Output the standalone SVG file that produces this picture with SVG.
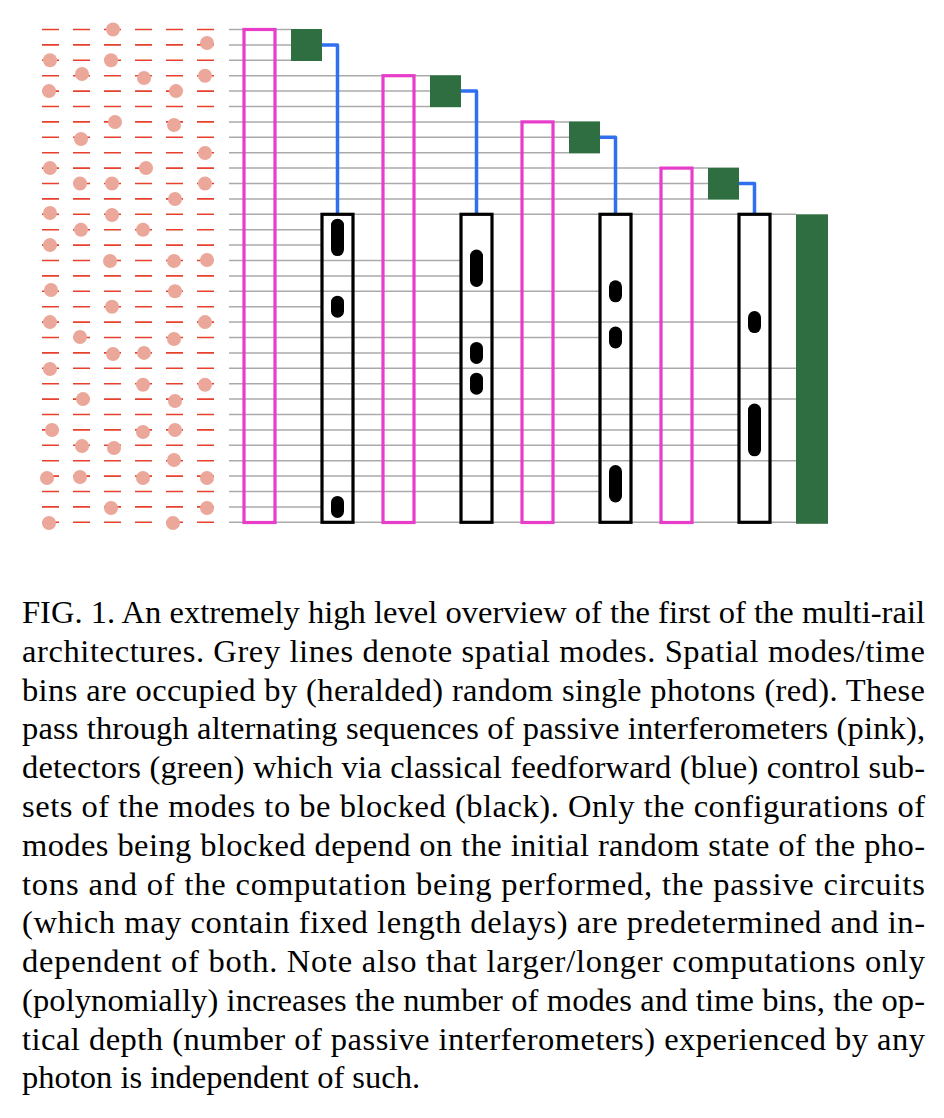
<svg xmlns="http://www.w3.org/2000/svg" width="944" height="1118" viewBox="0 0 944 1118">
<style>
.g{stroke:#aaaaaa;stroke-width:1.5}
.d{stroke:#e8402e;stroke-width:1.6}
.p{fill:#eba79a}
.pk{fill:none;stroke:#e83ccb;stroke-width:3.2}
.gr{fill:#2f6e40}
.bl{fill:none;stroke:#2f6ff0;stroke-width:3.5;stroke-linejoin:round}
.bk{fill:none;stroke:#000;stroke-width:3.2}
.bb{fill:#000}
.t{font-family:"Liberation Serif",serif;font-size:32.5px;fill:#000}
</style>
<rect width="944" height="1118" fill="#fff"/>
<g id="modes">
<path class="g" d="M229 29.5H291M229 44.9H291M229 60.3H291M229 75.7H430M229 91.1H430M229 106.5H430M229 121.9H569M229 137.3H569M229 152.7H569M229 168.1H708M229 183.5H708M229 198.9H708M229 214.3H796M229 229.7H322M229 245.1H322M229 306.7H322M229 506.9H322M229 260.5H461M229 275.9H461M229 352.9H461M229 383.7H461M229 291.3H600M229 337.5H600M229 476.1H600M229 491.5H600M229 322.1H739M229 414.5H739M229 429.9H739M229 445.3H739M229 368.3H796M229 399.1H796M229 460.7H796M229 522.3H796"/>
</g>
<g id="dashes">
<path class="d" d="M42 29.5h17M73 29.5h17M104 29.5h17M135 29.5h17M166 29.5h17M197 29.5h17
M42 44.9h17M73 44.9h17M104 44.9h17M135 44.9h17M166 44.9h17M197 44.9h17
M42 60.3h17M73 60.3h17M104 60.3h17M135 60.3h17M166 60.3h17M197 60.3h17
M42 75.7h17M73 75.7h17M104 75.7h17M135 75.7h17M166 75.7h17M197 75.7h17
M42 91.1h17M73 91.1h17M104 91.1h17M135 91.1h17M166 91.1h17M197 91.1h17
M42 106.5h17M73 106.5h17M104 106.5h17M135 106.5h17M166 106.5h17M197 106.5h17
M42 121.9h17M73 121.9h17M104 121.9h17M135 121.9h17M166 121.9h17M197 121.9h17
M42 137.3h17M73 137.3h17M104 137.3h17M135 137.3h17M166 137.3h17M197 137.3h17
M42 152.7h17M73 152.7h17M104 152.7h17M135 152.7h17M166 152.7h17M197 152.7h17
M42 168.1h17M73 168.1h17M104 168.1h17M135 168.1h17M166 168.1h17M197 168.1h17
M42 183.5h17M73 183.5h17M104 183.5h17M135 183.5h17M166 183.5h17M197 183.5h17
M42 198.9h17M73 198.9h17M104 198.9h17M135 198.9h17M166 198.9h17M197 198.9h17
M42 214.3h17M73 214.3h17M104 214.3h17M135 214.3h17M166 214.3h17M197 214.3h17
M42 229.7h17M73 229.7h17M104 229.7h17M135 229.7h17M166 229.7h17M197 229.7h17
M42 245.1h17M73 245.1h17M104 245.1h17M135 245.1h17M166 245.1h17M197 245.1h17
M42 260.5h17M73 260.5h17M104 260.5h17M135 260.5h17M166 260.5h17M197 260.5h17
M42 275.9h17M73 275.9h17M104 275.9h17M135 275.9h17M166 275.9h17M197 275.9h17
M42 291.3h17M73 291.3h17M104 291.3h17M135 291.3h17M166 291.3h17M197 291.3h17
M42 306.7h17M73 306.7h17M104 306.7h17M135 306.7h17M166 306.7h17M197 306.7h17
M42 322.1h17M73 322.1h17M104 322.1h17M135 322.1h17M166 322.1h17M197 322.1h17
M42 337.5h17M73 337.5h17M104 337.5h17M135 337.5h17M166 337.5h17M197 337.5h17
M42 352.9h17M73 352.9h17M104 352.9h17M135 352.9h17M166 352.9h17M197 352.9h17
M42 368.3h17M73 368.3h17M104 368.3h17M135 368.3h17M166 368.3h17M197 368.3h17
M42 383.7h17M73 383.7h17M104 383.7h17M135 383.7h17M166 383.7h17M197 383.7h17
M42 399.1h17M73 399.1h17M104 399.1h17M135 399.1h17M166 399.1h17M197 399.1h17
M42 414.5h17M73 414.5h17M104 414.5h17M135 414.5h17M166 414.5h17M197 414.5h17
M42 429.9h17M73 429.9h17M104 429.9h17M135 429.9h17M166 429.9h17M197 429.9h17
M42 445.3h17M73 445.3h17M104 445.3h17M135 445.3h17M166 445.3h17M197 445.3h17
M42 460.7h17M73 460.7h17M104 460.7h17M135 460.7h17M166 460.7h17M197 460.7h17
M42 476.1h17M73 476.1h17M104 476.1h17M135 476.1h17M166 476.1h17M197 476.1h17
M42 491.5h17M73 491.5h17M104 491.5h17M135 491.5h17M166 491.5h17M197 491.5h17
M42 506.9h17M73 506.9h17M104 506.9h17M135 506.9h17M166 506.9h17M197 506.9h17
M42 522.3h17M73 522.3h17M104 522.3h17M135 522.3h17M166 522.3h17M197 522.3h17"/>
</g>
<g id="photons" class="p">
<circle cx="113" cy="29.5" r="7"/>
<circle cx="207" cy="43" r="7"/>
<circle cx="50" cy="60.3" r="7"/><circle cx="111" cy="60.3" r="7"/>
<circle cx="82" cy="74" r="7"/><circle cx="144" cy="78" r="7"/><circle cx="205" cy="75.7" r="7"/>
<circle cx="49" cy="91.1" r="7"/><circle cx="176" cy="91.1" r="7"/>
<circle cx="115" cy="122" r="7"/><circle cx="174" cy="125" r="7"/>
<circle cx="81" cy="139" r="7"/>
<circle cx="205" cy="153" r="7"/>
<circle cx="50" cy="168.1" r="7"/><circle cx="146" cy="168.1" r="7"/>
<circle cx="80" cy="183.5" r="7"/><circle cx="112" cy="183.5" r="7"/><circle cx="205" cy="183.5" r="7"/>
<circle cx="175" cy="199" r="7"/>
<circle cx="50" cy="213" r="7"/><circle cx="112" cy="215" r="7"/>
<circle cx="81" cy="229.7" r="7"/><circle cx="143" cy="229.7" r="7"/>
<circle cx="50" cy="245.1" r="7"/>
<circle cx="110" cy="261" r="7"/><circle cx="174" cy="261" r="7"/><circle cx="207" cy="260" r="7"/>
<circle cx="51" cy="290" r="7"/><circle cx="175" cy="291.3" r="7"/>
<circle cx="112" cy="306.7" r="7"/>
<circle cx="50" cy="322.1" r="7"/><circle cx="205" cy="322.1" r="7"/>
<circle cx="80" cy="337" r="7"/><circle cx="174" cy="339" r="7"/>
<circle cx="113" cy="354" r="7"/><circle cx="144" cy="352.9" r="7"/>
<circle cx="50" cy="369" r="7"/>
<circle cx="143" cy="384.7" r="7"/><circle cx="205" cy="384.7" r="7"/>
<circle cx="83" cy="399.1" r="7"/><circle cx="175" cy="401" r="7"/>
<circle cx="52" cy="430" r="7"/><circle cx="143" cy="432" r="7"/><circle cx="175" cy="430" r="7"/>
<circle cx="82" cy="446" r="7"/><circle cx="114" cy="448" r="7"/>
<circle cx="174" cy="460" r="7"/>
<circle cx="47" cy="478" r="7"/><circle cx="80" cy="477" r="7"/><circle cx="143" cy="478" r="7"/><circle cx="207" cy="478" r="7"/>
<circle cx="111" cy="508" r="7"/><circle cx="207" cy="508" r="7"/>
<circle cx="49" cy="523" r="7"/><circle cx="173" cy="523" r="7"/>
</g>
<g id="interferometer-1"><rect class="pk" x="244" y="29.5" width="31" height="493"/></g>
<g id="interferometer-2"><rect class="pk" x="383" y="75.7" width="31" height="446.8"/></g>
<g id="interferometer-3"><rect class="pk" x="522" y="121.9" width="31" height="400.6"/></g>
<g id="interferometer-4"><rect class="pk" x="661" y="168.1" width="31" height="354.4"/></g>
<g id="detector-1"><rect class="gr" x="291" y="29" width="31" height="32"/></g>
<g id="detector-2"><rect class="gr" x="430" y="75.2" width="31" height="32"/></g>
<g id="detector-3"><rect class="gr" x="569" y="121.4" width="31" height="32"/></g>
<g id="detector-4"><rect class="gr" x="708" y="167.6" width="31" height="32"/></g>
<g id="final-detector"><rect class="gr" x="796" y="214.3" width="32" height="309.5"/></g>
<g id="feedforward">
<path class="bl" d="M322 44.9H337.5V214.3"/>
<path class="bl" d="M461 91.1H476.5V214.3"/>
<path class="bl" d="M600 137.3H615.5V214.3"/>
<path class="bl" d="M739 183.5H754.5V214.3"/>
</g>
<g id="block-1">
<rect class="bk" x="322" y="214.3" width="31" height="308"/>
<rect class="bb" x="331" y="218.7" width="13" height="37.4" rx="6.5"/>
<rect class="bb" x="331" y="295.7" width="13" height="22" rx="6.5"/>
<rect class="bb" x="331" y="495.9" width="13" height="22" rx="6.5"/>
</g>
<g id="block-2">
<rect class="bk" x="461" y="214.3" width="31" height="308"/>
<rect class="bb" x="470" y="249.5" width="13" height="37.4" rx="6.5"/>
<rect class="bb" x="470" y="341.9" width="13" height="22" rx="6.5"/>
<rect class="bb" x="470" y="372.7" width="13" height="22" rx="6.5"/>
</g>
<g id="block-3">
<rect class="bk" x="600" y="214.3" width="31" height="308"/>
<rect class="bb" x="609" y="280.3" width="13" height="22" rx="6.5"/>
<rect class="bb" x="609" y="326.5" width="13" height="22" rx="6.5"/>
<rect class="bb" x="609" y="465.1" width="13" height="37.4" rx="6.5"/>
</g>
<g id="block-4">
<rect class="bk" x="739" y="214.3" width="31" height="308"/>
<rect class="bb" x="748" y="311.1" width="13" height="22" rx="6.5"/>
<rect class="bb" x="748" y="403.5" width="13" height="52.8" rx="6.5"/>
</g>
<g id="caption" class="t">
<text x="22" y="623" textLength="903" lengthAdjust="spacing">FIG. 1. An extremely high level overview of the first of the multi-rail</text>
<text x="22" y="661.8" textLength="903" lengthAdjust="spacing">architectures. Grey lines denote spatial modes. Spatial modes/time</text>
<text x="22" y="700.6" textLength="903" lengthAdjust="spacing">bins are occupied by (heralded) random single photons (red). These</text>
<text x="22" y="739.4" textLength="903" lengthAdjust="spacing">pass through alternating sequences of passive interferometers (pink),</text>
<text x="22" y="778.2" textLength="903" lengthAdjust="spacing">detectors (green) which via classical feedforward (blue) control sub-</text>
<text x="22" y="817" textLength="903" lengthAdjust="spacing">sets of the modes to be blocked (black). Only the configurations of</text>
<text x="22" y="855.8" textLength="903" lengthAdjust="spacing">modes being blocked depend on the initial random state of the pho-</text>
<text x="22" y="894.6" textLength="903" lengthAdjust="spacing">tons and of the computation being performed, the passive circuits</text>
<text x="22" y="933.4" textLength="903" lengthAdjust="spacing">(which may contain fixed length delays) are predetermined and in-</text>
<text x="22" y="972.2" textLength="903" lengthAdjust="spacing">dependent of both. Note also that larger/longer computations only</text>
<text x="22" y="1011" textLength="903" lengthAdjust="spacing">(polynomially) increases the number of modes and time bins, the op-</text>
<text x="22" y="1049.8" textLength="903" lengthAdjust="spacing">tical depth (number of passive interferometers) experienced by any</text>
<text x="22" y="1088">photon is independent of such.</text>
</g>
</svg>
